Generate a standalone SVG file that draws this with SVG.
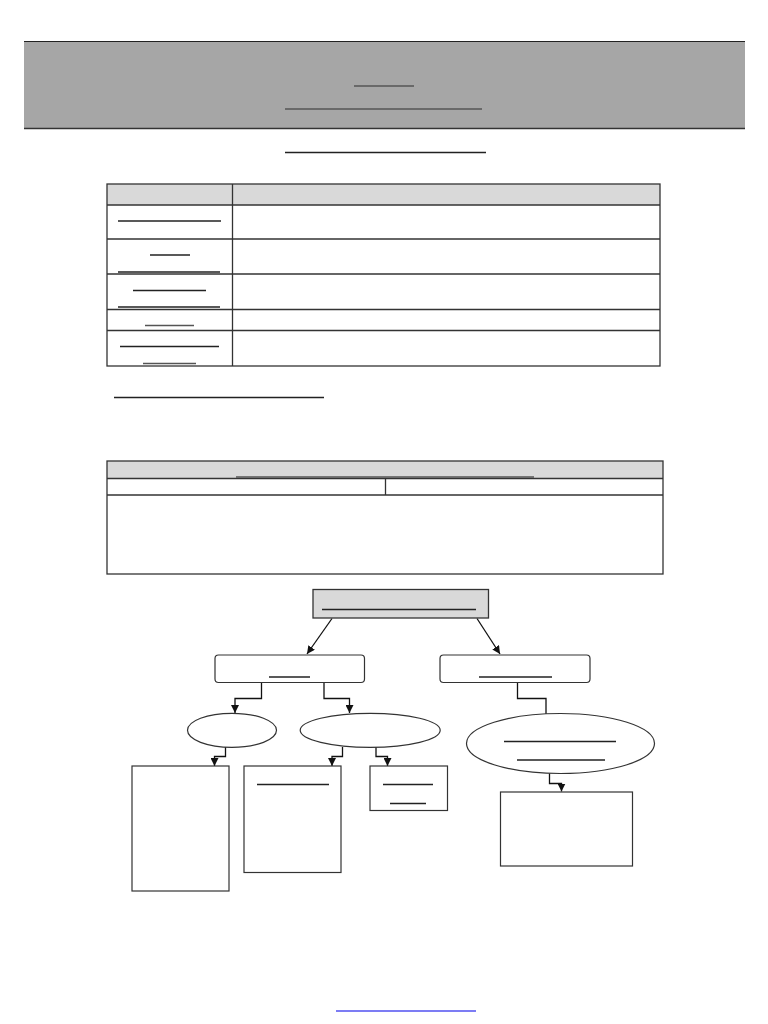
<svg xmlns="http://www.w3.org/2000/svg" width="768" height="1024" viewBox="0 0 768 1024">
<style>
.ul{stroke:#222;stroke-width:1.3;fill:none}
.ulg{stroke:#555;stroke-width:1.6;fill:none}
.tb{stroke:#333;stroke-width:1.3;fill:none}
.node{stroke:#333;stroke-width:1.2;fill:#fff}
.conn{stroke:#111;stroke-width:1.3;fill:none}
</style>
<defs>
<marker id="arr" viewBox="0 0 10 10" refX="10" refY="5" markerWidth="8" markerHeight="8" markerUnits="userSpaceOnUse" orient="auto">
<path d="M0,0 L10,5 L0,10 z" fill="#111"/>
</marker>
</defs>
<rect width="768" height="1024" fill="#fff"/>

<g id="header">
<rect x="24" y="41" width="721" height="87" fill="#a6a6a6"/>
<line x1="24" y1="41.5" x2="745" y2="41.5" stroke="#222" stroke-width="1.2"/>
<line x1="24" y1="128.5" x2="745" y2="128.5" stroke="#333" stroke-width="1.6"/>
<line class="ulg" x1="354" y1="86" x2="414" y2="86" stroke="#333"/>
<line class="ulg" x1="285" y1="109" x2="482" y2="109" stroke="#333"/>
</g>

<g id="title">
<line class="ul" x1="285" y1="152.5" x2="486" y2="152.5"/>
</g>

<g id="table1">
<rect x="107" y="184" width="553" height="21" fill="#d9d9d9"/>
<rect class="tb" x="107" y="184" width="553" height="182"/>
<line class="tb" x1="232.5" y1="184" x2="232.5" y2="366"/>
<line class="tb" x1="107" y1="205" x2="660" y2="205"/>
<line class="tb" x1="107" y1="239" x2="660" y2="239"/>
<line class="tb" x1="107" y1="274" x2="660" y2="274"/>
<line class="tb" x1="107" y1="309.5" x2="660" y2="309.5"/>
<line class="tb" x1="107" y1="330.5" x2="660" y2="330.5"/>
<line class="ul" x1="118" y1="221" x2="221" y2="221"/>
<line class="ul" x1="150" y1="255" x2="190" y2="255"/>
<line class="ul" x1="118" y1="272" x2="220" y2="272"/>
<line class="ul" x1="133" y1="290.5" x2="206" y2="290.5"/>
<line class="ul" x1="118" y1="307" x2="220" y2="307"/>
<line class="ulg" x1="145" y1="325.5" x2="194" y2="325.5"/>
<line class="ul" x1="120" y1="346.5" x2="219" y2="346.5"/>
<line class="ulg" x1="143" y1="363.5" x2="196" y2="363.5"/>
</g>

<g id="subheading">
<line class="ul" x1="114" y1="397.5" x2="324" y2="397.5"/>
</g>

<g id="table2">
<rect x="107" y="461" width="556" height="17" fill="#d9d9d9"/>
<rect class="tb" x="107" y="461" width="556" height="113"/>
<line class="tb" x1="107" y1="478.5" x2="663" y2="478.5"/>
<line class="tb" x1="107" y1="495" x2="663" y2="495"/>
<line class="tb" x1="385.5" y1="478.5" x2="385.5" y2="495"/>
<line class="ulg" x1="236" y1="477" x2="534" y2="477"/>
</g>

<g id="connectors">
<line class="conn" x1="332" y1="618.5" x2="307" y2="654" marker-end="url(#arr)"/>
<line class="conn" x1="477" y1="618.5" x2="500" y2="654" marker-end="url(#arr)"/>
<polyline class="conn" points="261.5,682.5 261.5,698.5 235,698.5 235,713" marker-end="url(#arr)"/>
<polyline class="conn" points="324,682.5 324,698.5 349.5,698.5 349.5,713" marker-end="url(#arr)"/>
<polyline class="conn" points="517.5,682.5 517.5,698.5 546,698.5 546,714"/>
<polyline class="conn" points="225.5,747 225.5,756.5 214.5,756.5 214.5,766" marker-end="url(#arr)"/>
<polyline class="conn" points="342.5,747 342.5,756.5 332,756.5 332,766" marker-end="url(#arr)"/>
<polyline class="conn" points="376,747 376,756.5 387.5,756.5 387.5,766" marker-end="url(#arr)"/>
<polyline class="conn" points="549.5,773 549.5,783.5 561.5,783.5 561.5,791.5" marker-end="url(#arr)"/>
</g>

<g id="root">
<rect x="313" y="589.5" width="175.5" height="28.5" fill="#d9d9d9" stroke="#333" stroke-width="1.3"/>
<line class="ul" x1="322" y1="609.5" x2="476" y2="609.5"/>
</g>

<g id="branchLeft">
<rect class="node" x="215" y="655" width="149.5" height="27.5" rx="3.5"/>
<line class="ul" x1="269" y1="677" x2="310" y2="677"/>
</g>

<g id="branchRight">
<rect class="node" x="440" y="655" width="150" height="27.5" rx="3.5"/>
<line class="ul" x1="479" y1="677" x2="552" y2="677"/>
</g>

<g id="ellipseA">
<ellipse class="node" cx="232" cy="730.3" rx="44.5" ry="17"/>
</g>

<g id="ellipseB">
<ellipse class="node" cx="370.2" cy="730.3" rx="70" ry="17"/>
</g>

<g id="ellipseC">
<ellipse class="node" cx="560.5" cy="743.5" rx="94" ry="30"/>
<line class="ul" x1="504" y1="741.5" x2="616" y2="741.5"/>
<line class="ul" x1="517" y1="760" x2="605" y2="760"/>
</g>

<g id="boxA">
<rect class="node" x="132" y="766" width="97" height="125"/>
</g>

<g id="boxB">
<rect class="node" x="244" y="766" width="97" height="106.5"/>
<line class="ul" x1="257" y1="784.5" x2="329" y2="784.5"/>
</g>

<g id="boxC">
<rect class="node" x="370" y="766" width="77.5" height="44.5"/>
<line class="ul" x1="383" y1="784.5" x2="433" y2="784.5"/>
<line class="ul" x1="390" y1="803.5" x2="426" y2="803.5"/>
</g>

<g id="boxD">
<rect class="node" x="500.5" y="792" width="132" height="74"/>
</g>

<g id="footer">
<line x1="336" y1="1011" x2="476" y2="1011" stroke="#5050f0" stroke-width="1.6"/>
</g>
</svg>
